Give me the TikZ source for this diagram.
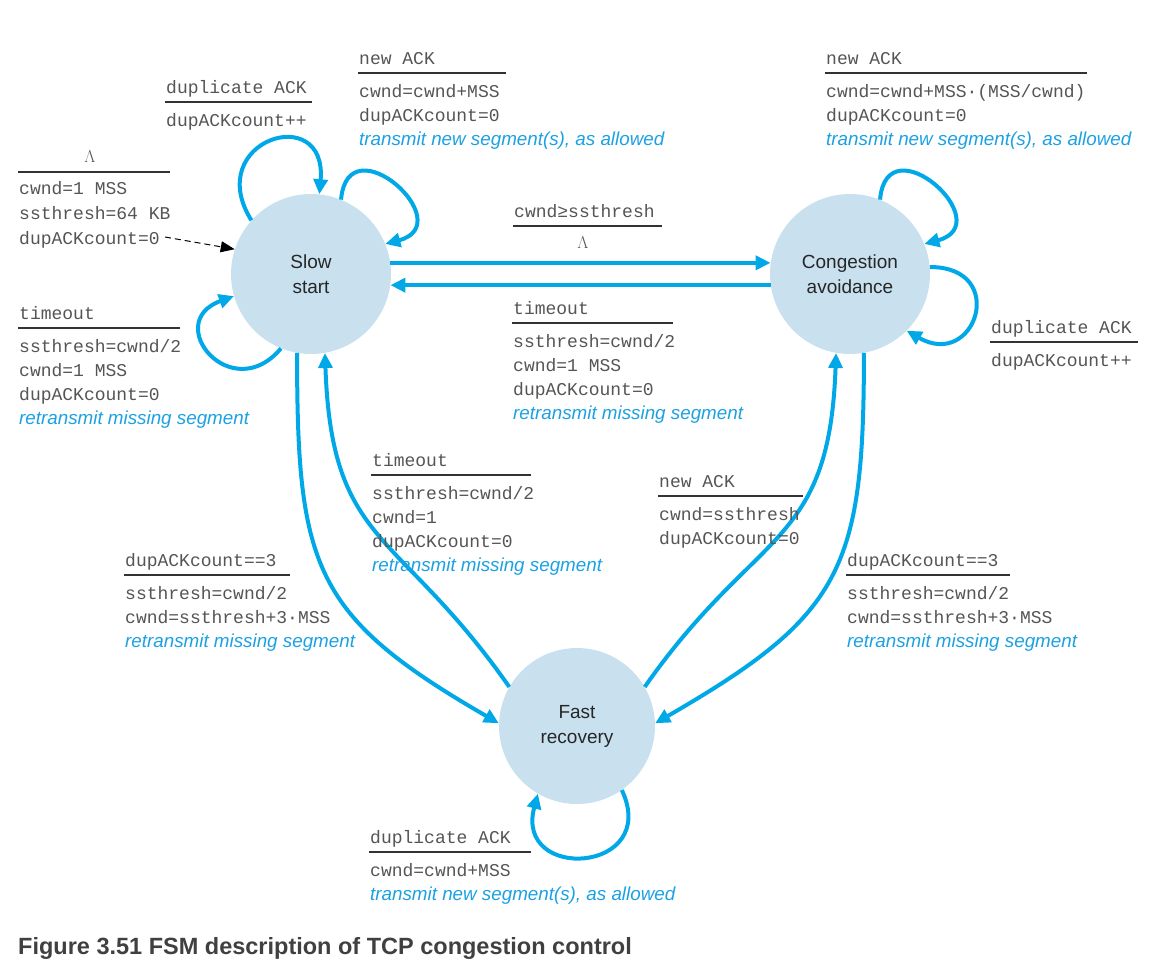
\documentclass[tikz,border=0pt]{standalone}
\usepackage{fontspec}
\setmainfont{Liberation Sans}
\newfontfamily\monofont{Liberation Mono}
\usetikzlibrary{arrows.meta}
\definecolor{flow}{HTML}{00A8E8}
\definecolor{itblue}{HTML}{1BA1E2}
\definecolor{statefill}{HTML}{C9E1EF}
\definecolor{txtgray}{HTML}{555555}
\definecolor{rulegray}{HTML}{333333}
\tikzset{
  mono/.style={font=\monofont\fontsize{18}{24}\selectfont, text=txtgray, inner sep=0, anchor=base west},
  state/.style={circle, fill=statefill, minimum size=160pt, inner sep=0, align=center,
    font=\fontsize{19}{25}\selectfont, text=black!85},
  trans/.style={draw=flow, line width=4pt, -{Triangle[length=15pt,width=14pt]}},
  loop/.style={trans, looseness=#1},
  hrule/.style={draw=rulegray, line width=1.4pt},
  lam/.style={inner sep=0, font=\fontsize{19}{19}\selectfont, text=txtgray},
}
\newcommand\itb[1]{{\color{itblue}\fontspec{Liberation Sans}\itshape\fontsize{18.8}{24}\selectfont #1}}
% name, x, header baseline y, header, rule end x, lines
\newcommand\blk[6]{%
  \node[mono] (#1-h) at (#2,#3) {#4};
  \draw[hrule] (#2-1,#3+9) -- (#5,#3+9);
  \foreach \t [count=\i] in {#6}
    \node[mono] (#1-\i) at (#2,#3+9+24*\i) {\t};
}
\begin{document}
\begin{tikzpicture}[x=1pt,y=-1pt]
\useasboundingbox (0,0) rectangle (1170,961);

% states
\node[state] (ss) at (311,274) {Slow\\start};
\node[state] (ca) at (850,274) {Congestion\\avoidance};
\node[state, minimum size=156pt] (fr) at (577,726) {Fast\\recovery};

% initial transition
\coordinate (init) at (165,237);
\draw[dash pattern=on 6pt off 4pt, line width=1pt, -{Triangle[length=14pt,width=11pt]}] (init) -- (ss.162);

% transitions between states
\draw[trans] (ss.8) -- (ca.172);
\draw[trans] (ca.188) -- (ss.-8);
\draw[trans] (ss.-100) to[out=-90,in=150,looseness=1.3] (fr.178);
\draw[trans] (fr.150) to[out=125,in=-88,looseness=1.3] (ss.-80);
\draw[trans] (ca.-80) to[out=-90,in=30,looseness=1.3] (fr.2);
\draw[trans] (fr.30) to[out=55,in=-92,looseness=1.3] (ca.-100);

% self loops
\draw[loop=3.3] (ss.138) to[out=122,in=85] (ss.84);
\draw[loop=3.2] (ss.68) to[out=85,in=15] (ss.22);
\draw[loop=2.8] (ss.-112) to[out=-130,in=200] (ss.196);
\draw[loop=3.2] (ca.68) to[out=85,in=15] (ca.22);
\draw[loop=3] (ca.5) to[out=0,in=-30] (ca.-45);
\draw[loop=2.8] (fr.-55) to[out=-65,in=-105] (fr.-120);

% labels
\blk{da1}{166}{93}{duplicate ACK}{312}{dupACKcount++}
\blk{na1}{359}{64}{new ACK}{506}{cwnd=cwnd+MSS,dupACKcount=0,\itb{transmit new segment(s), as allowed}}
\node[lam] (lam1) at (90,157) {$\Lambda$};
\draw[hrule] (18,172) -- (170,172);
\node[mono] (in1) at (19,194) {cwnd=1 MSS};
\node[mono] (in2) at (19,219) {ssthresh=64 KB};
\node[mono] (in3) at (19,244) {dupACKcount=0};
\blk{to1}{19}{319}{timeout}{180}{ssthresh=cwnd/2,cwnd=1 MSS,dupACKcount=0,\itb{retransmit missing segment}}
\node[mono] (ge-h) at (514,217) {cwnd≥ssthresh};
\draw[hrule] (513,226) -- (662,226);
\node[lam] (lam2) at (583,243) {$\Lambda$};
\blk{to2}{513}{314}{timeout}{673}{ssthresh=cwnd/2,cwnd=1 MSS,dupACKcount=0,\itb{retransmit missing segment}}
\blk{na2}{826}{64}{new ACK}{1087}{cwnd=cwnd+MSS·(MSS/cwnd),dupACKcount=0,\itb{transmit new segment(s), as allowed}}
\blk{da2}{991}{333}{duplicate ACK}{1138}{dupACKcount++}
\blk{to3}{372}{466}{timeout}{531}{ssthresh=cwnd/2,cwnd=1,dupACKcount=0,\itb{retransmit missing segment}}
\blk{na3}{659}{487}{new ACK}{803}{cwnd=ssthresh,dupACKcount=0}
\blk{d3a}{125}{566}{dupACKcount==3}{290}{ssthresh=cwnd/2,cwnd=ssthresh+3·MSS,\itb{retransmit missing segment}}
\blk{d3b}{847}{566}{dupACKcount==3}{1010}{ssthresh=cwnd/2,cwnd=ssthresh+3·MSS,\itb{retransmit missing segment}}
\blk{da3}{370}{843}{duplicate ACK}{531}{cwnd=cwnd+MSS,\itb{transmit new segment(s), as allowed}}

% caption
\node[inner sep=0, anchor=base west, font=\bfseries\fontsize{23.5}{26}\selectfont, text=black!75] (cap) at (18,954)
  {Figure 3.51 FSM description of TCP congestion control};
\end{tikzpicture}
\end{document}
